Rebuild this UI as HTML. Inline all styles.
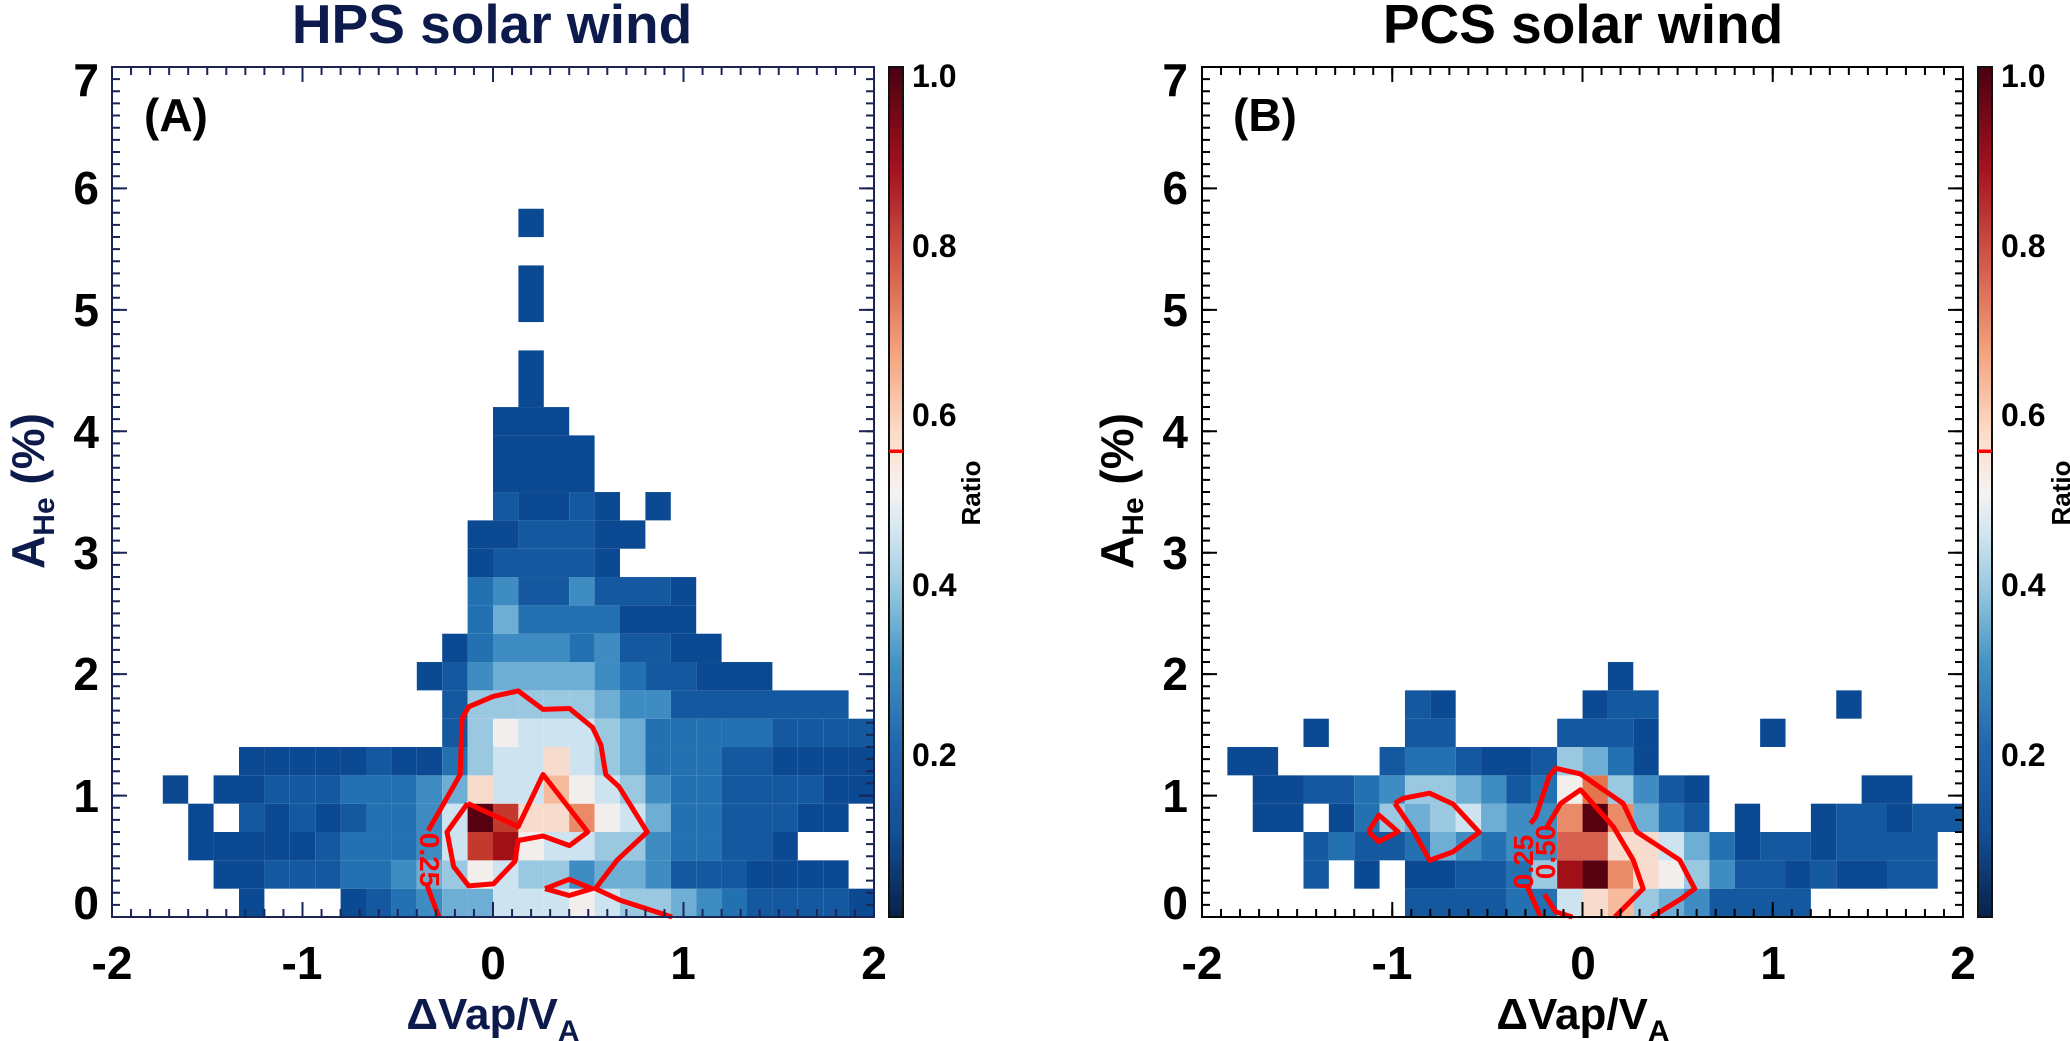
<!DOCTYPE html>
<html><head><meta charset="utf-8"><style>
html,body{margin:0;padding:0;background:#fff;}
svg{display:block;}
.D{fill:#0b4a93}.d{fill:#1458a0}.m{fill:#2371b1}.M{fill:#3f8cc2}.l{fill:#6eaed5}.L{fill:#9ac8e0}
.p{fill:#cde3ef}.w{fill:#f2eeec}.q{fill:#f7dccd}.Q{fill:#f5bb9c}.o{fill:#e98a68}.r{fill:#c4392e}.R{fill:#a10f17}.K{fill:#560010}
text{font-family:"Liberation Sans",Arial,sans-serif;font-weight:bold;}
.ct{fill:none;stroke:#ff0000;stroke-width:5;stroke-linejoin:round;}
</style></head><body>
<svg width="2070" height="1041" viewBox="0 0 2070 1041" xmlns="http://www.w3.org/2000/svg">
<defs>
<linearGradient id="cb" x1="0" y1="1" x2="0" y2="0">
<stop offset="0" stop-color="#08224a"/>
<stop offset="0.1" stop-color="#134f95"/>
<stop offset="0.2" stop-color="#2166ac"/>
<stop offset="0.3" stop-color="#4393c3"/>
<stop offset="0.38" stop-color="#92c5de"/>
<stop offset="0.45" stop-color="#d1e5f0"/>
<stop offset="0.5" stop-color="#f5f3f2"/>
<stop offset="0.57" stop-color="#fddbc7"/>
<stop offset="0.66" stop-color="#f4a582"/>
<stop offset="0.76" stop-color="#d6604d"/>
<stop offset="0.88" stop-color="#a5121f"/>
<stop offset="1" stop-color="#4a0010"/>
</linearGradient>
</defs>

<!-- ============ PANEL A ============ -->
<text x="492" y="43" font-size="55" text-anchor="middle" fill="#0d1b4c">HPS solar wind</text>
<g transform="translate(112,917) scale(25.4,-28.33)">
<rect x="5" y="0" width="1" height="1" class="D"/>
<rect x="9" y="0" width="1" height="1" class="D"/><rect x="10" y="0" width="1" height="1" class="d"/><rect x="11" y="0" width="1" height="1" class="m"/><rect x="12" y="0" width="1" height="1" class="M"/><rect x="13" y="0" width="1" height="1" class="l"/><rect x="14" y="0" width="1" height="1" class="l"/><rect x="15" y="0" width="1" height="1" class="p"/><rect x="16" y="0" width="1" height="1" class="p"/><rect x="17" y="0" width="1" height="1" class="p"/><rect x="18" y="0" width="1" height="1" class="w"/><rect x="19" y="0" width="1" height="1" class="p"/><rect x="20" y="0" width="1" height="1" class="L"/><rect x="21" y="0" width="1" height="1" class="L"/><rect x="22" y="0" width="1" height="1" class="l"/><rect x="23" y="0" width="1" height="1" class="M"/><rect x="24" y="0" width="1" height="1" class="m"/><rect x="25" y="0" width="1" height="1" class="d"/><rect x="26" y="0" width="1" height="1" class="d"/><rect x="27" y="0" width="1" height="1" class="d"/><rect x="28" y="0" width="1" height="1" class="d"/><rect x="29" y="0" width="1" height="1" class="D"/>
<rect x="4" y="1" width="1" height="1" class="D"/><rect x="5" y="1" width="1" height="1" class="D"/><rect x="6" y="1" width="1" height="1" class="d"/><rect x="7" y="1" width="1" height="1" class="d"/><rect x="8" y="1" width="1" height="1" class="d"/><rect x="9" y="1" width="1" height="1" class="m"/><rect x="10" y="1" width="1" height="1" class="m"/><rect x="11" y="1" width="1" height="1" class="M"/><rect x="12" y="1" width="1" height="1" class="l"/><rect x="13" y="1" width="1" height="1" class="L"/><rect x="14" y="1" width="1" height="1" class="w"/><rect x="15" y="1" width="1" height="1" class="p"/><rect x="16" y="1" width="1" height="1" class="L"/><rect x="17" y="1" width="1" height="1" class="L"/><rect x="18" y="1" width="1" height="1" class="M"/><rect x="19" y="1" width="1" height="1" class="l"/><rect x="20" y="1" width="1" height="1" class="l"/><rect x="21" y="1" width="1" height="1" class="M"/><rect x="22" y="1" width="1" height="1" class="d"/><rect x="23" y="1" width="1" height="1" class="d"/><rect x="24" y="1" width="1" height="1" class="d"/><rect x="25" y="1" width="1" height="1" class="D"/><rect x="26" y="1" width="1" height="1" class="D"/><rect x="27" y="1" width="1" height="1" class="D"/><rect x="28" y="1" width="1" height="1" class="D"/>
<rect x="3" y="2" width="1" height="1" class="D"/><rect x="4" y="2" width="1" height="1" class="D"/><rect x="5" y="2" width="1" height="1" class="D"/><rect x="6" y="2" width="1" height="1" class="D"/><rect x="7" y="2" width="1" height="1" class="D"/><rect x="8" y="2" width="1" height="1" class="d"/><rect x="9" y="2" width="1" height="1" class="m"/><rect x="10" y="2" width="1" height="1" class="m"/><rect x="11" y="2" width="1" height="1" class="m"/><rect x="12" y="2" width="1" height="1" class="M"/><rect x="13" y="2" width="1" height="1" class="p"/><rect x="14" y="2" width="1" height="1" class="r"/><rect x="15" y="2" width="1" height="1" class="R"/><rect x="16" y="2" width="1" height="1" class="w"/><rect x="17" y="2" width="1" height="1" class="p"/><rect x="18" y="2" width="1" height="1" class="p"/><rect x="19" y="2" width="1" height="1" class="L"/><rect x="20" y="2" width="1" height="1" class="L"/><rect x="21" y="2" width="1" height="1" class="M"/><rect x="22" y="2" width="1" height="1" class="m"/><rect x="23" y="2" width="1" height="1" class="m"/><rect x="24" y="2" width="1" height="1" class="d"/><rect x="25" y="2" width="1" height="1" class="d"/><rect x="26" y="2" width="1" height="1" class="D"/>
<rect x="3" y="3" width="1" height="1" class="D"/><rect x="5" y="3" width="1" height="1" class="d"/><rect x="6" y="3" width="1" height="1" class="D"/><rect x="7" y="3" width="1" height="1" class="d"/><rect x="8" y="3" width="1" height="1" class="D"/><rect x="9" y="3" width="1" height="1" class="d"/><rect x="10" y="3" width="1" height="1" class="m"/><rect x="11" y="3" width="1" height="1" class="m"/><rect x="12" y="3" width="1" height="1" class="M"/><rect x="13" y="3" width="1" height="1" class="p"/><rect x="14" y="3" width="1" height="1" class="K"/><rect x="15" y="3" width="1" height="1" class="r"/><rect x="16" y="3" width="1" height="1" class="q"/><rect x="17" y="3" width="1" height="1" class="q"/><rect x="18" y="3" width="1" height="1" class="o"/><rect x="19" y="3" width="1" height="1" class="w"/><rect x="20" y="3" width="1" height="1" class="p"/><rect x="21" y="3" width="1" height="1" class="l"/><rect x="22" y="3" width="1" height="1" class="m"/><rect x="23" y="3" width="1" height="1" class="m"/><rect x="24" y="3" width="1" height="1" class="d"/><rect x="25" y="3" width="1" height="1" class="d"/><rect x="26" y="3" width="1" height="1" class="d"/><rect x="27" y="3" width="1" height="1" class="D"/><rect x="28" y="3" width="1" height="1" class="D"/>
<rect x="2" y="4" width="1" height="1" class="D"/><rect x="4" y="4" width="1" height="1" class="D"/><rect x="5" y="4" width="1" height="1" class="D"/><rect x="6" y="4" width="1" height="1" class="d"/><rect x="7" y="4" width="1" height="1" class="d"/><rect x="8" y="4" width="1" height="1" class="d"/><rect x="9" y="4" width="1" height="1" class="m"/><rect x="10" y="4" width="1" height="1" class="m"/><rect x="11" y="4" width="1" height="1" class="m"/><rect x="12" y="4" width="1" height="1" class="M"/><rect x="13" y="4" width="1" height="1" class="l"/><rect x="14" y="4" width="1" height="1" class="q"/><rect x="15" y="4" width="1" height="1" class="p"/><rect x="16" y="4" width="1" height="1" class="p"/><rect x="17" y="4" width="1" height="1" class="Q"/><rect x="18" y="4" width="1" height="1" class="w"/><rect x="19" y="4" width="1" height="1" class="p"/><rect x="20" y="4" width="1" height="1" class="L"/><rect x="21" y="4" width="1" height="1" class="M"/><rect x="22" y="4" width="1" height="1" class="m"/><rect x="23" y="4" width="1" height="1" class="m"/><rect x="24" y="4" width="1" height="1" class="d"/><rect x="25" y="4" width="1" height="1" class="d"/><rect x="26" y="4" width="1" height="1" class="d"/><rect x="27" y="4" width="1" height="1" class="d"/><rect x="28" y="4" width="1" height="1" class="D"/><rect x="29" y="4" width="1" height="1" class="D"/>
<rect x="5" y="5" width="1" height="1" class="D"/><rect x="6" y="5" width="1" height="1" class="D"/><rect x="7" y="5" width="1" height="1" class="D"/><rect x="8" y="5" width="1" height="1" class="D"/><rect x="9" y="5" width="1" height="1" class="D"/><rect x="10" y="5" width="1" height="1" class="d"/><rect x="11" y="5" width="1" height="1" class="D"/><rect x="12" y="5" width="1" height="1" class="D"/><rect x="13" y="5" width="1" height="1" class="m"/><rect x="14" y="5" width="1" height="1" class="L"/><rect x="15" y="5" width="1" height="1" class="p"/><rect x="16" y="5" width="1" height="1" class="p"/><rect x="17" y="5" width="1" height="1" class="q"/><rect x="18" y="5" width="1" height="1" class="p"/><rect x="19" y="5" width="1" height="1" class="L"/><rect x="20" y="5" width="1" height="1" class="l"/><rect x="21" y="5" width="1" height="1" class="m"/><rect x="22" y="5" width="1" height="1" class="m"/><rect x="23" y="5" width="1" height="1" class="m"/><rect x="24" y="5" width="1" height="1" class="d"/><rect x="25" y="5" width="1" height="1" class="d"/><rect x="26" y="5" width="1" height="1" class="D"/><rect x="27" y="5" width="1" height="1" class="D"/><rect x="28" y="5" width="1" height="1" class="D"/><rect x="29" y="5" width="1" height="1" class="D"/>
<rect x="13" y="6" width="1" height="1" class="d"/><rect x="14" y="6" width="1" height="1" class="L"/><rect x="15" y="6" width="1" height="1" class="w"/><rect x="16" y="6" width="1" height="1" class="p"/><rect x="17" y="6" width="1" height="1" class="p"/><rect x="18" y="6" width="1" height="1" class="p"/><rect x="19" y="6" width="1" height="1" class="L"/><rect x="20" y="6" width="1" height="1" class="l"/><rect x="21" y="6" width="1" height="1" class="m"/><rect x="22" y="6" width="1" height="1" class="m"/><rect x="23" y="6" width="1" height="1" class="m"/><rect x="24" y="6" width="1" height="1" class="m"/><rect x="25" y="6" width="1" height="1" class="m"/><rect x="26" y="6" width="1" height="1" class="d"/><rect x="27" y="6" width="1" height="1" class="d"/><rect x="28" y="6" width="1" height="1" class="d"/><rect x="29" y="6" width="1" height="1" class="d"/>
<rect x="13" y="7" width="1" height="1" class="d"/><rect x="14" y="7" width="1" height="1" class="L"/><rect x="15" y="7" width="1" height="1" class="L"/><rect x="16" y="7" width="1" height="1" class="L"/><rect x="17" y="7" width="1" height="1" class="L"/><rect x="18" y="7" width="1" height="1" class="L"/><rect x="19" y="7" width="1" height="1" class="l"/><rect x="20" y="7" width="1" height="1" class="M"/><rect x="21" y="7" width="1" height="1" class="M"/><rect x="22" y="7" width="7" height="1" class="d"/>
<rect x="12" y="8" width="1" height="1" class="D"/><rect x="13" y="8" width="1" height="1" class="d"/><rect x="14" y="8" width="1" height="1" class="M"/><rect x="15" y="8" width="4" height="1" class="l"/><rect x="19" y="8" width="1" height="1" class="M"/><rect x="20" y="8" width="1" height="1" class="m"/><rect x="21" y="8" width="2" height="1" class="d"/><rect x="23" y="8" width="3" height="1" class="D"/>
<rect x="13" y="9" width="1" height="1" class="D"/><rect x="14" y="9" width="1" height="1" class="m"/><rect x="15" y="9" width="3" height="1" class="M"/><rect x="18" y="9" width="1" height="1" class="m"/><rect x="19" y="9" width="1" height="1" class="M"/><rect x="20" y="9" width="2" height="1" class="d"/><rect x="22" y="9" width="2" height="1" class="D"/>
<rect x="14" y="10" width="1" height="1" class="m"/><rect x="15" y="10" width="1" height="1" class="l"/><rect x="16" y="10" width="4" height="1" class="m"/><rect x="20" y="10" width="3" height="1" class="D"/>
<rect x="14" y="11" width="1" height="1" class="m"/><rect x="15" y="11" width="1" height="1" class="M"/><rect x="16" y="11" width="2" height="1" class="d"/><rect x="18" y="11" width="1" height="1" class="M"/><rect x="19" y="11" width="3" height="1" class="d"/><rect x="22" y="11" width="1" height="1" class="D"/>
<rect x="14" y="12" width="1" height="1" class="D"/><rect x="15" y="12" width="4" height="1" class="d"/><rect x="19" y="12" width="1" height="1" class="D"/>
<rect x="14" y="13" width="2" height="1" class="D"/><rect x="16" y="13" width="3" height="1" class="d"/><rect x="19" y="13" width="2" height="1" class="D"/>
<rect x="15" y="14" width="1" height="1" class="d"/><rect x="16" y="14" width="2" height="1" class="D"/><rect x="18" y="14" width="1" height="1" class="d"/><rect x="19" y="14" width="1" height="1" class="D"/><rect x="21" y="14" width="1" height="1" class="D"/>
<rect x="15" y="15" width="4" height="2" class="D"/>
<rect x="15" y="17" width="3" height="1" class="D"/>
<rect x="16" y="18" width="1" height="2" class="D"/>
<rect x="16" y="21" width="1" height="2" class="D"/>
<rect x="16" y="24" width="1" height="1" class="D"/>
<polyline class="ct" vector-effect="non-scaling-stroke" points="14,4.01 15.99,3.19 16.97,5.03 18.73,3.0 18.01,2.52 16.97,2.86 15.99,2.7 15.86,1.96 15.02,1.17 14.04,1.1 13.45,1.78 13.19,3.0 14,4.01"/>
<polyline class="ct" vector-effect="non-scaling-stroke" points="12.87,0 12.41,1.1"/>
<polyline class="ct" vector-effect="non-scaling-stroke" points="12.45,3.05 13.71,5.03 13.78,7.0 14.04,7.42 15.02,7.79 15.99,7.98 16.97,7.33 18.01,7.36 18.92,6.69 19.25,6.07 19.44,5.03 19.96,4.6 21.07,3.0 19.88,2.0 19.03,1.0 20.01,0.59 22.05,0"/>
<polyline class="ct" vector-effect="non-scaling-stroke" points="17.05,1.0 18.0,1.33 18.9,1.0 18.0,0.76 17.05,1.0"/>
</g>
<text transform="translate(420,860) rotate(90)" font-size="28" fill="#ff0000" text-anchor="middle">0.25</text>
<rect x="112" y="67" width="762" height="850" fill="none" stroke="#1a2555" stroke-width="2"/>
<g stroke="#1a2555" fill="none">
<line x1="116" y1="917" x2="116" y2="67" stroke-width="8" stroke-dasharray="2 10.143" stroke-dashoffset="1"/>
<line x1="870" y1="917" x2="870" y2="67" stroke-width="8" stroke-dasharray="2 10.143" stroke-dashoffset="1"/>
<line x1="119.5" y1="917" x2="119.5" y2="67" stroke-width="15" stroke-dasharray="2 119.43" stroke-dashoffset="1"/>
<line x1="866.5" y1="917" x2="866.5" y2="67" stroke-width="15" stroke-dasharray="2 119.43" stroke-dashoffset="1"/>
<line x1="112" y1="913" x2="874" y2="913" stroke-width="8" stroke-dasharray="2 17.05" stroke-dashoffset="1"/>
<line x1="112" y1="71" x2="874" y2="71" stroke-width="8" stroke-dasharray="2 17.05" stroke-dashoffset="1"/>
<line x1="112" y1="909.5" x2="874" y2="909.5" stroke-width="15" stroke-dasharray="2 188.5" stroke-dashoffset="1"/>
<line x1="112" y1="74.5" x2="874" y2="74.5" stroke-width="15" stroke-dasharray="2 188.5" stroke-dashoffset="1"/>
</g>
<text x="144" y="131" font-size="46" fill="#000">(A)</text>
<g font-size="46" fill="#000" text-anchor="end">
<text x="99" y="96">7</text><text x="99" y="204">6</text><text x="99" y="326">5</text><text x="99" y="448">4</text><text x="99" y="569">3</text><text x="99" y="690">2</text><text x="99" y="812">1</text><text x="99" y="919">0</text>
</g>
<g font-size="46" fill="#000" text-anchor="middle">
<text x="112" y="979">-2</text><text x="302" y="979">-1</text><text x="493" y="979">0</text><text x="683" y="979">1</text><text x="874" y="979">2</text>
</g>
<text x="493" y="1029" font-size="44" fill="#0d1b4c" text-anchor="middle">ΔVap/V<tspan font-size="30" dy="12">A</tspan></text>
<text transform="translate(44,491) rotate(-90)" font-size="46" fill="#0d1b4c" text-anchor="middle">A<tspan font-size="30" dy="10">He</tspan><tspan dy="-10"> (%)</tspan></text>
<rect x="889" y="67" width="14" height="850" fill="url(#cb)" stroke="#111" stroke-width="2"/>
<rect x="889" y="449.5" width="14" height="3.5" fill="#ff0000"/>
<g font-size="32" fill="#000">
<text x="912" y="87">1.0</text><text x="912" y="257">0.8</text><text x="912" y="426">0.6</text><text x="912" y="596">0.4</text><text x="912" y="766">0.2</text>
</g>
<text transform="translate(980,493) rotate(-90)" font-size="26" fill="#000" text-anchor="middle">Ratio</text>

<!-- ============ PANEL B ============ -->
<text x="1583" y="43" font-size="55" text-anchor="middle" fill="#000">PCS solar wind</text>
<g transform="translate(1202,917) scale(25.37,-28.33)">
<rect x="8" y="0" width="4" height="1" class="d"/><rect x="12" y="0" width="2" height="1" class="m"/><rect x="14" y="0" width="1" height="1" class="p"/><rect x="15" y="0" width="1" height="1" class="q"/><rect x="16" y="0" width="1" height="1" class="Q"/><rect x="17" y="0" width="1" height="1" class="L"/><rect x="18" y="0" width="1" height="1" class="l"/><rect x="19" y="0" width="1" height="1" class="M"/><rect x="20" y="0" width="4" height="1" class="d"/>
<rect x="4" y="1" width="1" height="1" class="d"/><rect x="6" y="1" width="1" height="1" class="D"/><rect x="8" y="1" width="2" height="1" class="D"/><rect x="10" y="1" width="2" height="1" class="d"/><rect x="12" y="1" width="1" height="1" class="m"/><rect x="13" y="1" width="1" height="1" class="L"/><rect x="14" y="1" width="1" height="1" class="R"/><rect x="15" y="1" width="1" height="1" class="K"/><rect x="16" y="1" width="1" height="1" class="o"/><rect x="17" y="1" width="1" height="1" class="q"/><rect x="18" y="1" width="1" height="1" class="w"/><rect x="19" y="1" width="1" height="1" class="L"/><rect x="20" y="1" width="1" height="1" class="M"/><rect x="21" y="1" width="2" height="1" class="d"/><rect x="23" y="1" width="1" height="1" class="D"/><rect x="24" y="1" width="1" height="1" class="d"/><rect x="25" y="1" width="2" height="1" class="D"/><rect x="27" y="1" width="2" height="1" class="d"/>
<rect x="4" y="2" width="1" height="1" class="d"/><rect x="5" y="2" width="1" height="1" class="m"/><rect x="6" y="2" width="2" height="1" class="d"/><rect x="8" y="2" width="1" height="1" class="m"/><rect x="9" y="2" width="1" height="1" class="l"/><rect x="10" y="2" width="1" height="1" class="M"/><rect x="11" y="2" width="1" height="1" class="m"/><rect x="12" y="2" width="2" height="1" class="M"/><rect x="14" y="2" width="2" height="1" fill="#d6604d"/><rect x="16" y="2" width="2" height="1" class="q"/><rect x="18" y="2" width="1" height="1" class="p"/><rect x="19" y="2" width="1" height="1" class="l"/><rect x="20" y="2" width="1" height="1" class="m"/><rect x="21" y="2" width="1" height="1" class="D"/><rect x="22" y="2" width="2" height="1" class="d"/><rect x="24" y="2" width="1" height="1" class="D"/><rect x="25" y="2" width="4" height="1" class="d"/>
<rect x="2" y="3" width="2" height="1" class="D"/><rect x="5" y="3" width="1" height="1" class="D"/><rect x="6" y="3" width="1" height="1" class="m"/><rect x="7" y="3" width="1" height="1" class="L"/><rect x="8" y="3" width="1" height="1" class="l"/><rect x="9" y="3" width="1" height="1" class="L"/><rect x="10" y="3" width="1" height="1" class="p"/><rect x="11" y="3" width="1" height="1" class="l"/><rect x="12" y="3" width="2" height="1" class="M"/><rect x="14" y="3" width="1" height="1" class="o"/><rect x="15" y="3" width="1" height="1" class="K"/><rect x="16" y="3" width="1" height="1" class="o"/><rect x="17" y="3" width="1" height="1" class="l"/><rect x="18" y="3" width="1" height="1" class="m"/><rect x="19" y="3" width="1" height="1" class="d"/><rect x="21" y="3" width="1" height="1" class="D"/><rect x="24" y="3" width="1" height="1" class="D"/><rect x="25" y="3" width="2" height="1" class="d"/><rect x="27" y="3" width="1" height="1" class="D"/><rect x="28" y="3" width="2" height="1" class="d"/>
<rect x="2" y="4" width="2" height="1" class="D"/><rect x="4" y="4" width="2" height="1" class="d"/><rect x="6" y="4" width="1" height="1" class="m"/><rect x="7" y="4" width="1" height="1" class="M"/><rect x="8" y="4" width="2" height="1" class="L"/><rect x="10" y="4" width="1" height="1" class="l"/><rect x="11" y="4" width="1" height="1" class="M"/><rect x="12" y="4" width="1" height="1" class="d"/><rect x="13" y="4" width="1" height="1" class="m"/><rect x="14" y="4" width="1" height="1" class="w"/><rect x="15" y="4" width="1" height="1" fill="#e3754f"/><rect x="16" y="4" width="1" height="1" class="L"/><rect x="17" y="4" width="1" height="1" class="M"/><rect x="18" y="4" width="1" height="1" class="d"/><rect x="19" y="4" width="1" height="1" class="D"/><rect x="26" y="4" width="2" height="1" class="D"/>
<rect x="1" y="5" width="2" height="1" class="D"/><rect x="7" y="5" width="1" height="1" class="d"/><rect x="8" y="5" width="2" height="1" class="m"/><rect x="10" y="5" width="1" height="1" class="d"/><rect x="11" y="5" width="2" height="1" class="D"/><rect x="13" y="5" width="1" height="1" class="d"/><rect x="14" y="5" width="1" height="1" class="L"/><rect x="15" y="5" width="1" height="1" class="l"/><rect x="16" y="5" width="1" height="1" class="m"/><rect x="17" y="5" width="1" height="1" class="D"/>
<rect x="4" y="6" width="1" height="1" class="D"/><rect x="8" y="6" width="2" height="1" class="d"/><rect x="14" y="6" width="3" height="1" class="d"/><rect x="17" y="6" width="1" height="1" class="D"/><rect x="22" y="6" width="1" height="1" class="D"/>
<rect x="8" y="7" width="1" height="1" class="d"/><rect x="9" y="7" width="1" height="1" class="D"/><rect x="15" y="7" width="1" height="1" class="D"/><rect x="16" y="7" width="2" height="1" class="d"/><rect x="25" y="7" width="1" height="1" class="D"/>
<rect x="16" y="8" width="1" height="1" class="D"/>
<polyline class="ct" vector-effect="non-scaling-stroke" points="6.56,3.01 6.97,3.6 7.73,3.01 6.97,2.66 6.56,3.01"/>
<polyline class="ct" vector-effect="non-scaling-stroke" points="7.6,4.01 7.93,4.19 8.97,4.37 9.89,3.99 10.93,2.99 9.89,2.3 8.97,2.0 8.32,3.07 7.6,4.01"/>
<polyline class="ct" vector-effect="non-scaling-stroke" points="13.35,0 12.83,1.06"/>
<polyline class="ct" vector-effect="non-scaling-stroke" points="12.95,3.3 13.16,3.54 13.68,4.96 13.94,5.25 14.92,5.05 16.6,4.01 17.13,3.01 18.83,2.01 19.42,1.0 18.9,0.65 17.72,0"/>
<polyline class="ct" vector-effect="non-scaling-stroke" points="14.6,0 13.94,0.18 13.5,0.8"/>
<polyline class="ct" vector-effect="non-scaling-stroke" points="13.55,3.1 13.68,3.31 14.14,4.01 14.92,4.49 16.21,3.19 17.0,2.01 17.39,1.0 16.27,0"/>
</g>
<text transform="translate(1533,862) rotate(-90)" font-size="28" fill="#ff0000" text-anchor="middle">0.25</text>
<text transform="translate(1555,852) rotate(-90)" font-size="28" fill="#ff0000" text-anchor="middle">0.50</text>
<rect x="1202" y="67" width="761" height="850" fill="none" stroke="#000" stroke-width="2"/>
<g stroke="#000" fill="none">
<line x1="1206" y1="917" x2="1206" y2="67" stroke-width="8" stroke-dasharray="2 10.143" stroke-dashoffset="1"/>
<line x1="1959" y1="917" x2="1959" y2="67" stroke-width="8" stroke-dasharray="2 10.143" stroke-dashoffset="1"/>
<line x1="1209.5" y1="917" x2="1209.5" y2="67" stroke-width="15" stroke-dasharray="2 119.43" stroke-dashoffset="1"/>
<line x1="1955.5" y1="917" x2="1955.5" y2="67" stroke-width="15" stroke-dasharray="2 119.43" stroke-dashoffset="1"/>
<line x1="1202" y1="913" x2="1963" y2="913" stroke-width="8" stroke-dasharray="2 17.025" stroke-dashoffset="1"/>
<line x1="1202" y1="71" x2="1963" y2="71" stroke-width="8" stroke-dasharray="2 17.025" stroke-dashoffset="1"/>
<line x1="1202" y1="909.5" x2="1963" y2="909.5" stroke-width="15" stroke-dasharray="2 188.25" stroke-dashoffset="1"/>
<line x1="1202" y1="74.5" x2="1963" y2="74.5" stroke-width="15" stroke-dasharray="2 188.25" stroke-dashoffset="1"/>
</g>
<text x="1233" y="131" font-size="46" fill="#000">(B)</text>
<g font-size="46" fill="#000" text-anchor="end">
<text x="1188" y="96">7</text><text x="1188" y="204">6</text><text x="1188" y="326">5</text><text x="1188" y="448">4</text><text x="1188" y="569">3</text><text x="1188" y="690">2</text><text x="1188" y="812">1</text><text x="1188" y="919">0</text>
</g>
<g font-size="46" fill="#000" text-anchor="middle">
<text x="1202" y="979">-2</text><text x="1392" y="979">-1</text><text x="1583" y="979">0</text><text x="1773" y="979">1</text><text x="1963" y="979">2</text>
</g>
<text x="1583" y="1029" font-size="44" fill="#000" text-anchor="middle">ΔVap/V<tspan font-size="30" dy="12">A</tspan></text>
<text transform="translate(1133,491) rotate(-90)" font-size="46" fill="#000" text-anchor="middle">A<tspan font-size="30" dy="10">He</tspan><tspan dy="-10"> (%)</tspan></text>
<rect x="1978" y="67" width="14" height="850" fill="url(#cb)" stroke="#111" stroke-width="2"/>
<rect x="1978" y="449.5" width="14" height="3.5" fill="#ff0000"/>
<g font-size="32" fill="#000">
<text x="2001" y="87">1.0</text><text x="2001" y="257">0.8</text><text x="2001" y="426">0.6</text><text x="2001" y="596">0.4</text><text x="2001" y="766">0.2</text>
</g>
<text transform="translate(2070,493) rotate(-90)" font-size="26" fill="#000" text-anchor="middle">Ratio</text>
</svg>
</body></html>
